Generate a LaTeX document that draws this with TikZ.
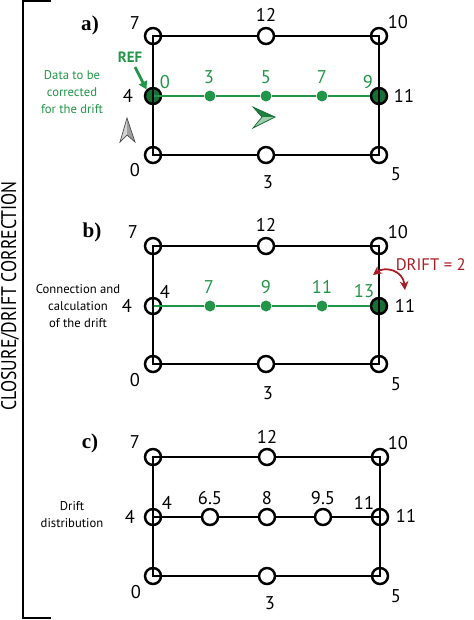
\documentclass[tikz,border=0pt]{standalone}
\usepackage{fontspec}
\setmainfont{PT Sans}
\newfontfamily\panfont{Liberation Serif}
\usetikzlibrary{arrows.meta}

\definecolor{ptgreen}{RGB}{34,150,72}
\definecolor{dkgreen}{RGB}{22,112,52}
\definecolor{driftred}{RGB}{168,28,36}

\begin{document}
\begin{tikzpicture}[x=0.02cm, y=-0.02cm,
  stn/.style={circle, draw, line width=1.4pt, minimum size=0.32cm, inner sep=0pt},
  dot/.style={circle, fill=ptgreen, minimum size=0.22cm, inner sep=0pt},
  frame/.style={line width=1pt},
  gline/.style={ptgreen, line width=0.9pt},
  num/.style={font=\fontsize{10.5}{12}\selectfont},
  gnum/.style={num, text=ptgreen},
  pan/.style={font=\panfont\bfseries\fontsize{12}{13}\selectfont},
  side/.style={align=center, font=\fontsize{7.2}{9.6}\selectfont}]

\path [use as bounding box] (0,0) rectangle (474,620);

% bracket and title
\coordinate (brtr) at (51,1);
\coordinate (brtl) at (23,1);
\coordinate (brbl) at (23,618);
\coordinate (brbr) at (51,618);
\draw [line width=1.1pt] (brtr) -- (brtl) -- (brbl) -- (brbr);
\node [rotate=90, font=\fontsize{12}{14}\selectfont] (title) at (10,296)
  {\scalebox{0.84}[1]{CLOSURE/DRIFT CORRECTION}};

% a)
\begin{scope}[shift={(153,36)}]
\node [stn] (aNW) at (0,0) {};
\node [stn, fill=white] (aN) at (113,0) {};
\node [stn] (aNE) at (226,0) {};
\node [stn, fill=dkgreen] (aW) at (0,60) {};
\node [stn, fill=dkgreen] (aE) at (226,60) {};
\node [stn] (aSW) at (0,119) {};
\node [stn, fill=white] (aS) at (113,119) {};
\node [stn] (aSE) at (226,119) {};
\node [dot] (a1) at (57,60) {};
\node [dot] (a2) at (113,60) {};
\node [dot] (a3) at (169,60) {};

\draw [gline] (aW.center) -- (a1) -- (a2) -- (a3) -- (aE);
\draw [frame] (aN) -- (aNW.center) -- (aW.center) -- (aSW.center) -- (aS);
\draw [frame] (aN) -- (aNE.center) -- (aE.center) -- (aSE.center) -- (aS);

\node [pan] (alab) at (-63,-11) {a)};
\node [num] (aNWt) at (-18,-13) {7};
\node [num] (aNt) at (113,-21) {12};
\node [num] (aNEt) at (245,-14) {10};
\node [num] (aWt) at (-25,60) {4};
\node [num] (aEt) at (251,60) {11};
\node [num] (aSWt) at (-18,134) {0};
\node [num] (aSt) at (115,146) {3};
\node [num] (aSEt) at (243,138) {5};
\node [gnum] (aWv) at (12,46) {0};
\node [gnum] (a1v) at (56,41) {3};
\node [gnum] (a2v) at (113,41) {5};
\node [gnum] (a3v) at (169,41) {7};
\node [gnum] (aEv) at (215,46) {9};

\node [side, text=ptgreen] (adata) at (-81,56) {Data to be\\corrected\\for the drift};
\node [text=ptgreen, font=\bfseries\fontsize{8.5}{10}\selectfont] (aref) at (-23,21) {REF};
\coordinate (arefs) at (-18,31);
\draw [ptgreen, line width=1.6pt, -{Triangle[length=4.5pt, width=5pt]}] (arefs) -- (aW.north west);

% walking direction
\fill [gray!35] (-26,82) -- (-33,106) -- (-26,99) -- cycle;
\fill [gray!75] (-26,82) -- (-26,99) -- (-18,106) -- cycle;
\draw [gray!60!black, line width=0.4pt] (-26,82) -- (-33,106) -- (-26,99) -- (-18,106) -- cycle;
\fill [ptgreen!85!black] (122,81) -- (100,71) -- (109,81) -- cycle;
\fill [ptgreen!45] (122,81) -- (109,81) -- (100,92) -- cycle;
\draw [ptgreen!70!black, line width=0.4pt] (122,81) -- (100,71) -- (109,81) -- (100,92) -- cycle;
\end{scope}

% b)
\begin{scope}[shift={(153,246)}]
\node [stn] (bNW) at (0,0) {};
\node [stn, fill=white] (bN) at (113,0) {};
\node [stn] (bNE) at (226,0) {};
\node [stn] (bW) at (0,60) {};
\node [stn, fill=dkgreen] (bE) at (226,60) {};
\node [stn] (bSW) at (0,118) {};
\node [stn, fill=white] (bS) at (113,118) {};
\node [stn] (bSE) at (226,118) {};
\node [dot] (b1) at (57,60) {};
\node [dot] (b2) at (113,60) {};
\node [dot] (b3) at (169,60) {};

\draw [gline] (bW.center) -- (b1) -- (b2) -- (b3) -- (bE);
\draw [frame] (bN) -- (bNW.center) -- (bW.center) -- (bSW.center) -- (bS);
\draw [frame] (bN) -- (bNE.center) -- (bE.center) -- (bSE.center) -- (bS);

\node [pan] (blab) at (-61,-14) {b)};
\node [num] (bNWt) at (-20,-14) {7};
\node [num] (bNt) at (113,-21) {12};
\node [num] (bNEt) at (245,-14) {10};
\node [num] (bWt) at (-26,60) {4};
\node [num] (bWv) at (12,46) {4};
\node [num] (bEt) at (252,60) {11};
\node [num] (bSWt) at (-18,134) {0};
\node [num] (bSt) at (115,147) {3};
\node [num] (bSEt) at (243,138) {5};
\node [gnum] (b1v) at (56,41) {7};
\node [gnum] (b2v) at (113,41) {9};
\node [gnum] (b3v) at (169,41) {11};
\node [gnum] (bEv) at (211,45) {13};

\node [side] (bconn) at (-75,60) {Connection and\\calculation\\of the drift};
\node [anchor=east, text=driftred, font=\fontsize{9.5}{12}\selectfont] (bdrift) at (319,19) {DRIFT = 2};
\coordinate (bd1) at (220,29);
\coordinate (bd2) at (252,44);
\draw [driftred, line width=1pt, {Stealth[length=5pt, width=5pt]}-{Stealth[length=5pt, width=5pt]}]
  (bd1) .. controls (232,20) and (250,24) .. (bd2);
\end{scope}

% c)
\begin{scope}[shift={(153,457)}]
\node [stn] (cNW) at (0,0) {};
\node [stn, fill=white] (cN) at (114,0) {};
\node [stn] (cNE) at (227,0) {};
\node [stn] (cW) at (0,60) {};
\node [stn] (cE) at (227,60) {};
\node [stn] (cSW) at (0,119) {};
\node [stn, fill=white] (cS) at (114,119) {};
\node [stn] (cSE) at (227,119) {};
\node [stn, fill=white] (c1) at (57,60) {};
\node [stn, fill=white] (c2) at (114,60) {};
\node [stn, fill=white] (c3) at (170,60) {};

\draw [frame] (cN) -- (cNW.center) -- (cW.center) -- (cSW.center) -- (cS);
\draw [frame] (cN) -- (cNE.center) -- (cE.center) -- (cSE.center) -- (cS);
\draw [frame] (cW.center) -- (c1);
\draw [frame] (c1) -- (c2);
\draw [frame] (c2) -- (c3);
\draw [frame] (c3) -- (cE.center);

\node [pan] (clab) at (-63,-14) {c)};
\node [num] (cNWt) at (-18,-15) {7};
\node [num] (cNt) at (114,-20) {12};
\node [num] (cNEt) at (245,-14) {10};
\node [num] (cWt) at (-23,60) {4};
\node [num] (cWv) at (14,46) {4};
\node [num] (c1v) at (57,41) {6.5};
\node [num] (c2v) at (114,41) {8};
\node [num] (c3v) at (170,41) {9.5};
\node [num] (cEv) at (211,46) {11};
\node [num] (cEt) at (253,59) {11};
\node [num] (cSWt) at (-17,135) {0};
\node [num] (cSt) at (117,146) {3};
\node [num] (cSEt) at (243,139) {5};

\node [side] (cdist) at (-81,58) {Drift\\distribution};
\end{scope}

\end{tikzpicture}
\end{document}
